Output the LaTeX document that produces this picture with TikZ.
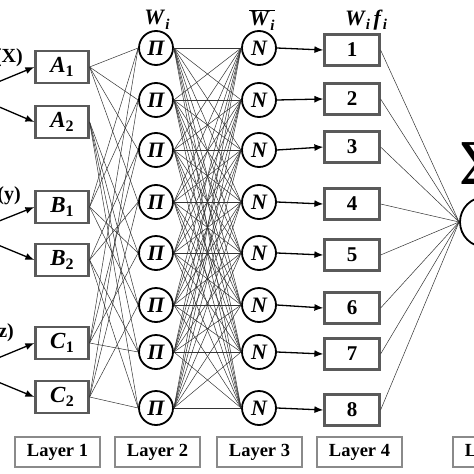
\documentclass[tikz,border=0pt]{standalone}
\usepackage{fontspec}
\setmainfont{Liberation Serif}
\usetikzlibrary{arrows.meta}
\definecolor{boxgray}{HTML}{5A5A5A}
\definecolor{laygray}{HTML}{8A8A8A}
\newcommand{\vsub}[2]{\textbf{\textit{#1}}\raisebox{-0.45ex}{\fontsize{16}{16}\selectfont\bfseries #2}}
\newcommand{\vsubi}[2]{\textbf{\textit{#1}}\raisebox{-0.45ex}{\fontsize{15}{15}\selectfont\bfseries\itshape #2}}
\begin{document}
\begin{tikzpicture}[x=1pt,y=-1pt,
  mf/.style={draw=boxgray,line width=2.2pt,minimum width=53pt,minimum height=32pt,inner sep=0pt,font=\fontsize{23}{23}\selectfont},
  rulec/.style={circle,draw,line width=1.8pt,minimum size=34pt,inner sep=0pt,font=\bfseries\itshape\fontsize{22}{22}\selectfont},
  outb/.style={draw=boxgray,line width=2.2pt,minimum width=55pt,minimum height=31pt,inner sep=0pt,font=\bfseries\fontsize{21}{21}\selectfont},
  lay/.style={draw=laygray,line width=1.2pt,minimum width=85pt,minimum height=30pt,inner sep=0pt,font=\bfseries\fontsize{18.5}{18.5}\selectfont},
  conn/.style={line width=0.5pt,draw=black!80},
  arr/.style={-{Latex[length=9pt,width=7pt]},line width=1.3pt},
  hdr/.style={inner sep=0pt,font=\fontsize{22}{22}\selectfont},
  inl/.style={inner sep=0pt,anchor=east,font=\bfseries\fontsize{20}{20}\selectfont}]
\useasboundingbox (0,0) rectangle (474,474);
\clip (0,0) rectangle (474,474);
\fill[white] (0,0) rectangle (474,474);
% inputs
\coordinate (ix) at (-31,94);
\coordinate (iy) at (-31,233);
\coordinate (iz) at (-31,370);
\node[inl] (lx) at (23,58) {(X)};
\node[inl] (ly) at (21,196) {(y)};
\node[inl] (lz) at (14,333) {(z)};
% layer 1
\node[mf] (A1) at (62,67) {\vsub{A}{1}};
\node[mf] (A2) at (62,122) {\vsub{A}{2}};
\node[mf] (B1) at (62,207) {\vsub{B}{1}};
\node[mf] (B2) at (62,260) {\vsub{B}{2}};
\node[mf] (C1) at (62,343) {\vsub{C}{1}};
\node[mf] (C2) at (62,397) {\vsub{C}{2}};
\foreach \s/\t in {ix/A1,ix/A2,iy/B1,iy/B2,iz/C1,iz/C2}
  \draw[arr] (\s) -- (\t.west);
% layer 2 and 3
\foreach \i/\y in {1/48,2/100,3/150,4/202,5/253,6/305,7/352,8/408}{
  \node[rulec] (P\i) at (156,\y) {Π};
  \node[rulec] (N\i) at (259,\y) {N};
}
% layer 4
\foreach \i/\y in {1/50,2/99,3/147,4/204,5/255,6/308,7/354,8/410}
  \node[outb] (O\i) at (352,\y) {\i};
% layer 5
\node[circle,draw,line width=1.8pt,minimum size=50pt,inner sep=0pt] (S) at (485,222) {};
\node[inner sep=0pt,font=\fontsize{64}{64}\selectfont] (sig) at (478,164) {Σ};
% headers
\node[hdr] (h2) at (157,20) {\vsubi{W}{i}};
\node[hdr] (h3) at (262,20) {$\overline{\mbox{\vsubi{W}{i}}}$};
\node[hdr] (h4) at (366,20) {\vsubi{W}{i}\,\vsubi{f}{i}};
% connections layer1 -> layer2
\foreach \k in {1,2,3,4} \draw[conn] (A1.east) -- (P\k.west);
\foreach \k in {5,6,7,8} \draw[conn] (A2.east) -- (P\k.west);
\foreach \k in {1,2,5,6} \draw[conn] (B1.east) -- (P\k.west);
\foreach \k in {3,4,7,8} \draw[conn] (B2.east) -- (P\k.west);
\foreach \k in {1,3,5,7} \draw[conn] (C1.east) -- (P\k.west);
\foreach \k in {2,4,6,8} \draw[conn] (C2.east) -- (P\k.west);
% layer2 -> layer3 full
\foreach \i in {1,...,8}
  \foreach \j in {1,...,8}
    \draw[conn] (P\i.east) -- (N\j.west);
% layer3 -> layer4
\foreach \i in {1,...,8} \draw[arr] (N\i.east) -- (O\i.west);
% layer4 -> layer5
\foreach \i in {1,...,8} \draw[conn] (O\i.east) -- (S.west);
% layer labels
\node[lay] (L1) at (57.5,452) {Layer 1};
\node[lay] (L2) at (157.5,452) {Layer 2};
\node[lay] (L3) at (259.5,452) {Layer 3};
\node[lay] (L4) at (359.5,452) {Layer 4};
\node[lay] (L5) at (495.5,452) {Layer 5};
\end{tikzpicture}
\end{document}
